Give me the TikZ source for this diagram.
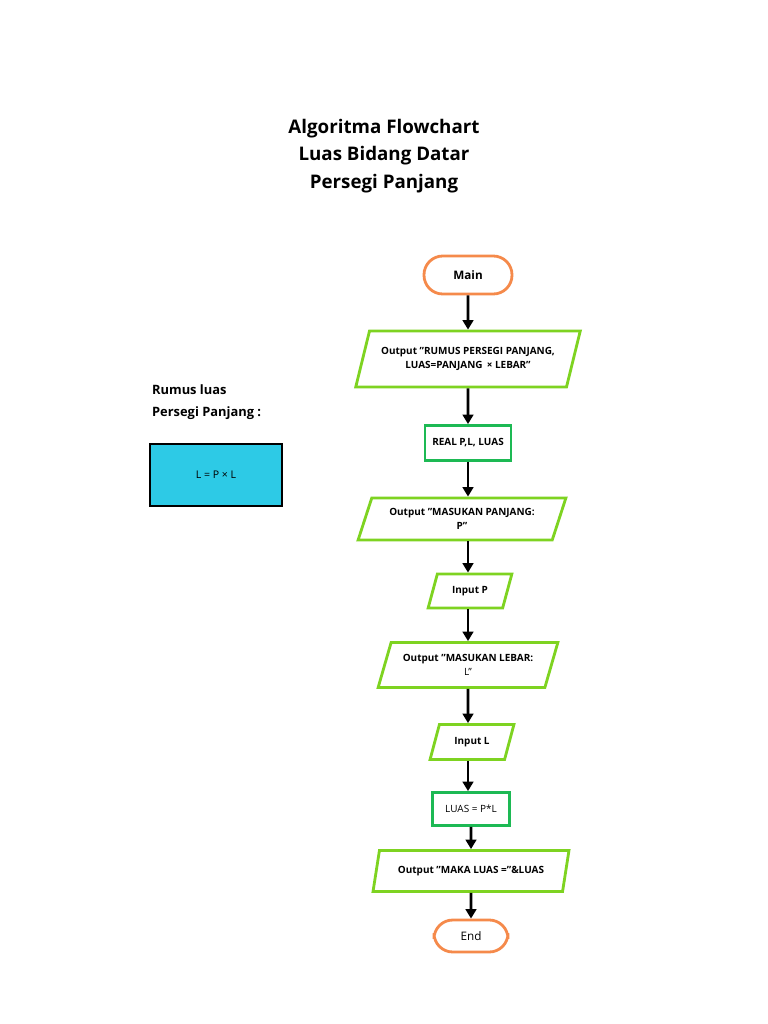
\documentclass[tikz,border=0pt]{standalone}
\usepackage{fontspec}
\setmainfont{Open Sans}
\usetikzlibrary{shapes.geometric,arrows.meta}
\definecolor{termorange}{HTML}{F58A4B}
\definecolor{iogreen}{HTML}{7ED321}
\definecolor{procgreen}{HTML}{1DB954}
\definecolor{boxblue}{HTML}{2DCAE6}
\tikzset{
	term/.style={draw=termorange, line width=2.4pt, rounded corners=16pt, font=\fontsize{10}{12}\selectfont\bfseries, inner sep=0pt},
	io/.style={draw=iogreen, line width=2.4pt, trapezium, trapezium left angle=62, trapezium right angle=118, trapezium stretches=true, align=center, inner sep=0pt, font=\fontsize{8.5}{11.5}\selectfont\bfseries},
	proc/.style={draw=procgreen, line width=2.4pt, inner sep=0pt, font=\fontsize{8.5}{10}\selectfont\bfseries},
	flow/.style={-{Triangle[length=8pt,width=9pt]}, line width=2.2pt}
}
\begin{document}
\begin{tikzpicture}[x=0.03cm,y=-0.03cm]
	\useasboundingbox (0,0) rectangle (768,1024);
	% title
	\node (title) at (384,156) [align=center, font=\fontsize{16}{23.5}\selectfont\bfseries] {Algoritma Flowchart\\Luas Bidang Datar\\Persegi Panjang};
	% formula box
	\node (rumus) at (148,402) [anchor=west, align=left, font=\fontsize{11}{18.5}\selectfont\bfseries] {Rumus luas\\Persegi Panjang :};
	\node (formula) at (216,475) [draw, fill=boxblue, line width=1pt, minimum width=132*0.03cm, minimum height=62*0.03cm, font=\fontsize{9}{11}\selectfont] {L = P × L};
	% flowchart
	\node (main) at (468,275) [term, minimum width=88*0.03cm, minimum height=38*0.03cm] {Main};
	\node (out1) at (468,359) [io, minimum width=225*0.03cm, minimum height=56*0.03cm] {Output "RUMUS PERSEGI PANJANG,\\LUAS=PANJANG \,× LEBAR"};
	\node (real) at (468,443) [proc, minimum width=86*0.03cm, minimum height=35*0.03cm] {REAL P,L, LUAS};
	\node (out2) at (462,519) [io, minimum width=208*0.03cm, minimum height=42*0.03cm] {Output "MASUKAN PANJANG:\\P"};
	\node (inP) at (470,591) [io, minimum width=84*0.03cm, minimum height=34*0.03cm] {Input P};
	\node (out3) at (468,665) [io, minimum width=180*0.03cm, minimum height=45*0.03cm] {Output "MASUKAN LEBAR:\\{\mdseries L"}};
	\node (inL) at (472,742) [io, minimum width=84*0.03cm, minimum height=35*0.03cm] {Input L};
	\node (luas) at (471,809) [proc, minimum width=77*0.03cm, minimum height=33*0.03cm, font=\fontsize{8.5}{10}\selectfont] {LUAS = P*L};
	\node (out4) at (471,871) [io, minimum width=196*0.03cm, minimum height=41*0.03cm] {Output "MAKA LUAS ="\&LUAS};
	\node (end) at (471,936) [term, minimum width=74*0.03cm, minimum height=32*0.03cm, font=\fontsize{10}{12}\selectfont\mdseries] {End};
	\draw [flow] (main) -- (out1);
	\draw [flow] (out1) -- (real);
	\draw [flow] (real) -- (real |- out2.north);
	\draw [flow] (real |- out2.south) -- (real |- inP.north);
	\draw [flow] (real |- inP.south) -- (real |- out3.north);
	\draw [flow] (out3) -- (out3 |- inL.north);
	\draw [flow] (out3 |- inL.south) -- (out3 |- luas.north);
	\draw [flow] (luas) -- (out4);
	\draw [flow] (out4) -- (end);
\end{tikzpicture}
\end{document}
